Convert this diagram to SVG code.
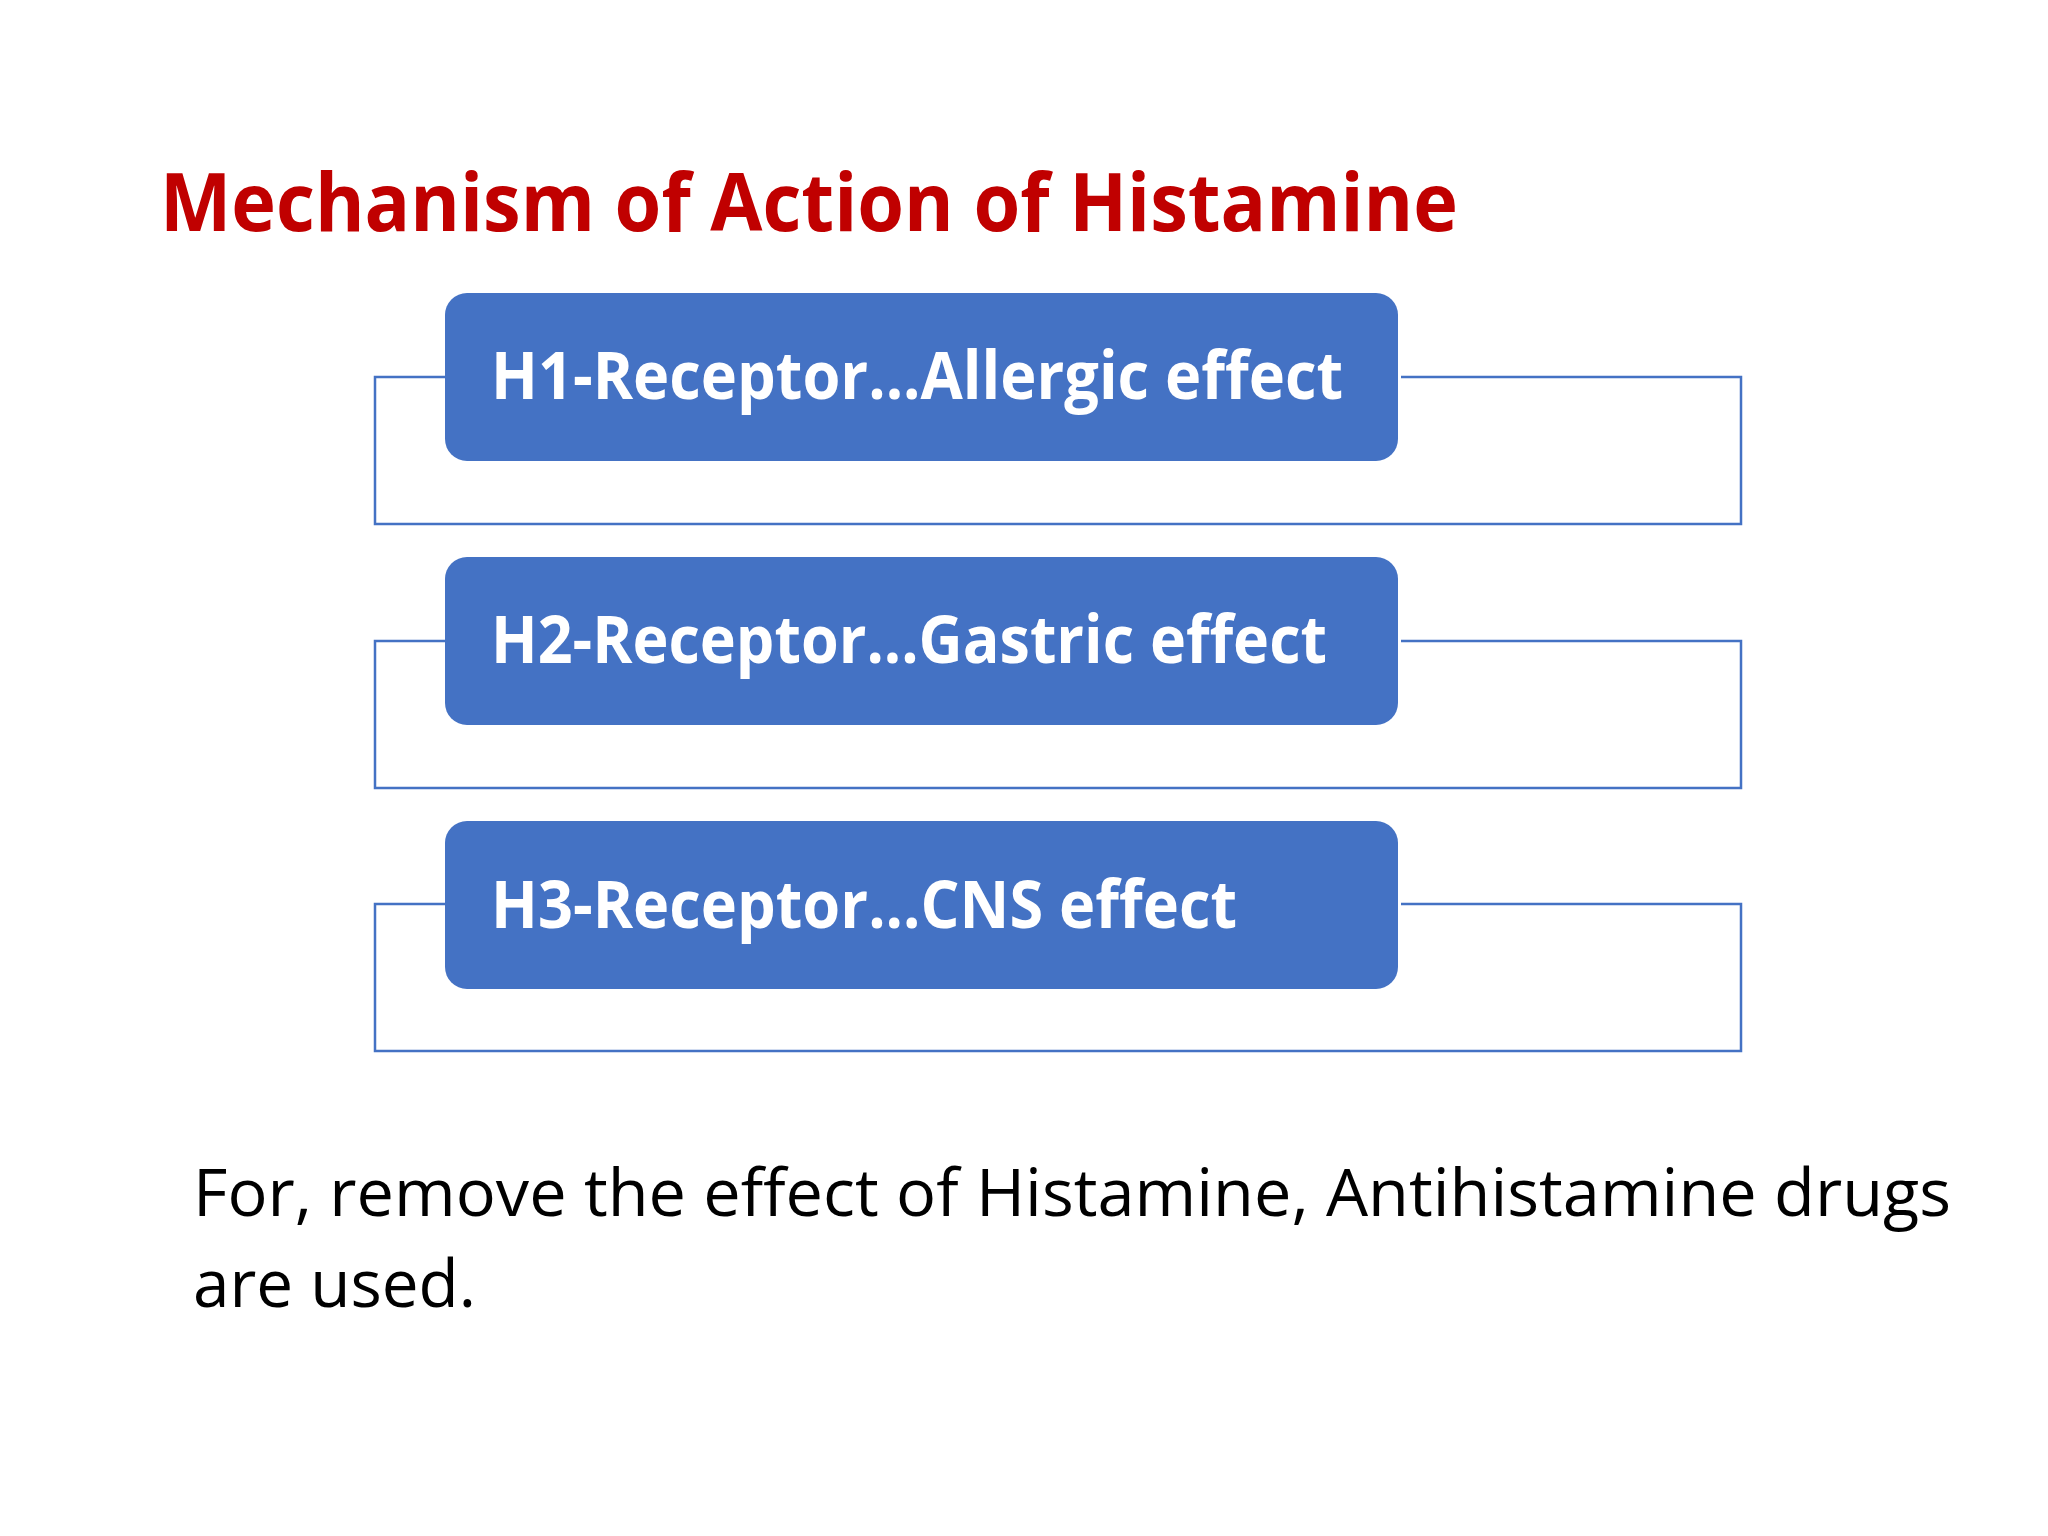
<svg xmlns="http://www.w3.org/2000/svg" width="2048" height="1536" viewBox="0 0 2048 1536">
<style>
.title{font-family:"Open Sans","Liberation Sans",sans-serif;font-weight:700;font-size:80px;fill:#C00000}
.box{fill:#4472C4}
.lbl{font-family:"Open Sans","Liberation Sans",sans-serif;font-weight:700;font-size:67px;fill:#FFFFFF}
.br{fill:none;stroke:#4472C4;stroke-width:2.5}
.body{font-family:"Open Sans","Liberation Sans",sans-serif;font-size:66px;fill:#000000}
</style>
<rect width="2048" height="1536" fill="#FFFFFF"/>
<text class="title" x="160" y="231" textLength="1298" lengthAdjust="spacingAndGlyphs">Mechanism of Action of Histamine</text>
<g id="connectors">
<polyline class="br" points="445,377 375,377 375,524 1741,524 1741,377 1401,377"/>
<polyline class="br" points="445,641 375,641 375,788 1741,788 1741,641 1401,641"/>
<polyline class="br" points="445,904 375,904 375,1051 1741,1051 1741,904 1401,904"/>
</g>
<g id="h1">
<rect class="box" x="445" y="293" width="953" height="168" rx="22"/>
<text class="lbl" x="491" y="399" textLength="852" lengthAdjust="spacingAndGlyphs">H1-Receptor...Allergic effect</text>
</g>
<g id="h2">
<rect class="box" x="445" y="557" width="953" height="168" rx="22"/>
<text class="lbl" x="491" y="663" textLength="836" lengthAdjust="spacingAndGlyphs">H2-Receptor...Gastric effect</text>
</g>
<g id="h3">
<rect class="box" x="445" y="821" width="953" height="168" rx="22"/>
<text class="lbl" x="491" y="928" textLength="746" lengthAdjust="spacingAndGlyphs">H3-Receptor...CNS effect</text>
</g>
<text class="body" x="193" y="1216" textLength="1758" lengthAdjust="spacingAndGlyphs">For, remove the effect of Histamine, Antihistamine drugs</text>
<text class="body" x="193" y="1307" textLength="283" lengthAdjust="spacingAndGlyphs">are used.</text>
</svg>
